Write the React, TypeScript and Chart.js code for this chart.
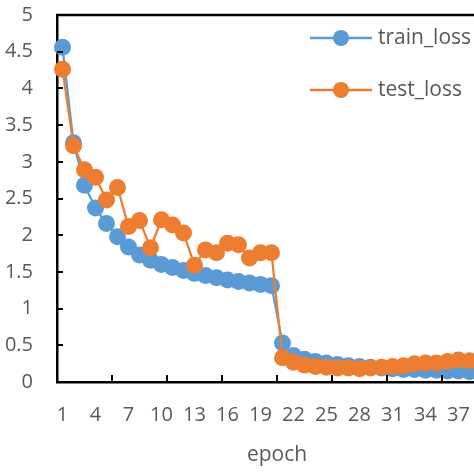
import React, { useEffect, useRef } from "react";
import { Chart, registerables } from "chart.js";

Chart.register(...registerables);

// Epoch numbers 1..40
const epochs: string[] = [
  "1", "2", "3", "4", "5", "6", "7", "8", "9", "10",
  "11", "12", "13", "14", "15", "16", "17", "18", "19", "20",
  "21", "22", "23", "24", "25", "26", "27", "28", "29", "30",
  "31", "32", "33", "34", "35", "36", "37", "38", "39", "40",
];

const trainLoss: number[] = [
  4.56, 3.26, 2.68, 2.37, 2.16, 1.98, 1.84, 1.73, 1.66, 1.6,
  1.56, 1.52, 1.48, 1.45, 1.42, 1.39, 1.37, 1.35, 1.33, 1.31,
  0.53, 0.36, 0.31, 0.28, 0.26, 0.24, 0.22, 0.21, 0.2, 0.19,
  0.18, 0.17, 0.17, 0.16, 0.16, 0.15, 0.15, 0.14, 0.14, 0.13,
];

const testLoss: number[] = [
  4.26, 3.22, 2.89, 2.79, 2.48, 2.65, 2.12, 2.2, 1.83, 2.21,
  2.14, 2.03, 1.59, 1.8, 1.76, 1.89, 1.87, 1.69, 1.76, 1.76,
  0.33, 0.27, 0.23, 0.21, 0.2, 0.19, 0.19, 0.18, 0.19, 0.2,
  0.21, 0.22, 0.25, 0.26, 0.26, 0.28, 0.3, 0.29, 0.28, 0.29,
];

const yTicks: number[] = [0, 0.5, 1, 1.5, 2, 2.5, 3, 3.5, 4, 4.5, 5];

const BLUE = "#5B9BD5";
const ORANGE = "#ED7D31";
const TEXT = "#595959";
const FONT = "'Open Sans', 'DejaVu Sans', sans-serif";

// Top border, inward tick marks and the in-plot legend
const decorations = {
  id: "decorations",
  afterDraw(chart: any) {
    const { ctx, chartArea } = chart;
    const x = chart.scales.x;
    const y = chart.scales.y;
    ctx.save();
    ctx.strokeStyle = "#000";
    ctx.lineWidth = 2.5;
    ctx.beginPath();
    ctx.moveTo(chartArea.left - 1, chartArea.top);
    ctx.lineTo(chartArea.right, chartArea.top);
    ctx.stroke();

    ctx.lineWidth = 2;
    ctx.beginPath();
    for (const v of yTicks) {
      const py = Math.round(y.getPixelForValue(v));
      ctx.moveTo(chartArea.left, py);
      ctx.lineTo(chartArea.left + 6, py);
    }
    for (let k = 5; k < epochs.length; k += 5) {
      const px = Math.round(x.getPixelForValue(k - 0.5));
      ctx.moveTo(px, chartArea.bottom);
      ctx.lineTo(px, chartArea.bottom - 7);
    }
    ctx.stroke();

    const items = [
      { label: "train_loss", color: BLUE, cy: 38 },
      { label: "test_loss", color: ORANGE, cy: 90 },
    ];
    ctx.font = `21px ${FONT}`;
    ctx.textBaseline = "middle";
    ctx.textAlign = "left";
    for (const it of items) {
      ctx.strokeStyle = it.color;
      ctx.lineWidth = 2.5;
      ctx.beginPath();
      ctx.moveTo(310, it.cy);
      ctx.lineTo(372, it.cy);
      ctx.stroke();
      ctx.fillStyle = it.color;
      ctx.beginPath();
      ctx.arc(341, it.cy, 8, 0, Math.PI * 2);
      ctx.fill();
      ctx.fillStyle = TEXT;
      ctx.fillText(it.label, 378, it.cy);
    }
    ctx.restore();
  },
};

export default function App() {
  const canvasRef = useRef<HTMLCanvasElement | null>(null);

  useEffect(() => {
    if (!canvasRef.current) return;
    const chart = new Chart(canvasRef.current, {
      type: "line",
      data: {
        labels: epochs,
        datasets: [
          {
            label: "train_loss",
            data: trainLoss,
            borderColor: BLUE,
            backgroundColor: BLUE,
            borderWidth: 2.25,
            pointRadius: 8.5,
            pointBorderWidth: 0,
            pointBackgroundColor: BLUE,
            order: 1,
          },
          {
            label: "test_loss",
            data: testLoss,
            borderColor: ORANGE,
            backgroundColor: ORANGE,
            borderWidth: 2.25,
            pointRadius: 8.5,
            pointBorderWidth: 0,
            pointBackgroundColor: ORANGE,
            order: 0,
          },
        ],
      },
      options: {
        responsive: false,
        animation: false,
        clip: false,
        layout: { padding: { top: 15, right: 43, left: 0, bottom: 0 } },
        plugins: {
          legend: { display: false },
          tooltip: { enabled: false },
        },
        scales: {
          x: {
            type: "category",
            offset: true,
            grid: { display: false, drawTicks: false },
            border: { display: true, color: "#000", width: 2.5 },
            ticks: {
              autoSkip: false,
              maxRotation: 0,
              padding: 21,
              color: TEXT,
              font: { family: FONT, size: 20 },
              callback: (_v: any, i: number) => (i % 3 === 0 ? epochs[i] : ""),
            },
            title: {
              display: true,
              text: "epoch",
              color: TEXT,
              font: { family: FONT, size: 21 },
              padding: { top: 0, bottom: 6 },
            },
            afterFit: (s: any) => {
              s.height = 92;
              s.paddingLeft = 0;
              s.paddingRight = 0;
            },
          },
          y: {
            min: 0,
            max: 5,
            grid: { display: false, drawTicks: false },
            border: { display: true, color: "#000", width: 2.5 },
            afterBuildTicks: (s: any) => {
              s.ticks = yTicks.map((v) => ({ value: v }));
            },
            ticks: {
              padding: 24,
              color: TEXT,
              font: { family: FONT, size: 20 },
              callback: (v: any) => String(Number(v)),
            },
            afterFit: (s: any) => {
              s.width = 57;
              s.paddingTop = 0;
              s.paddingBottom = 0;
            },
          },
        },
      },
      plugins: [decorations],
    });
    return () => chart.destroy();
  }, []);

  return (
    <div
      style={{
        position: "fixed",
        left: 0,
        top: 0,
        width: 474,
        height: 474,
        overflow: "hidden",
        background: "#fff",
      }}
    >
      <canvas ref={canvasRef} width={540} height={474} style={{ display: "block" }} />
    </div>
  );
}
